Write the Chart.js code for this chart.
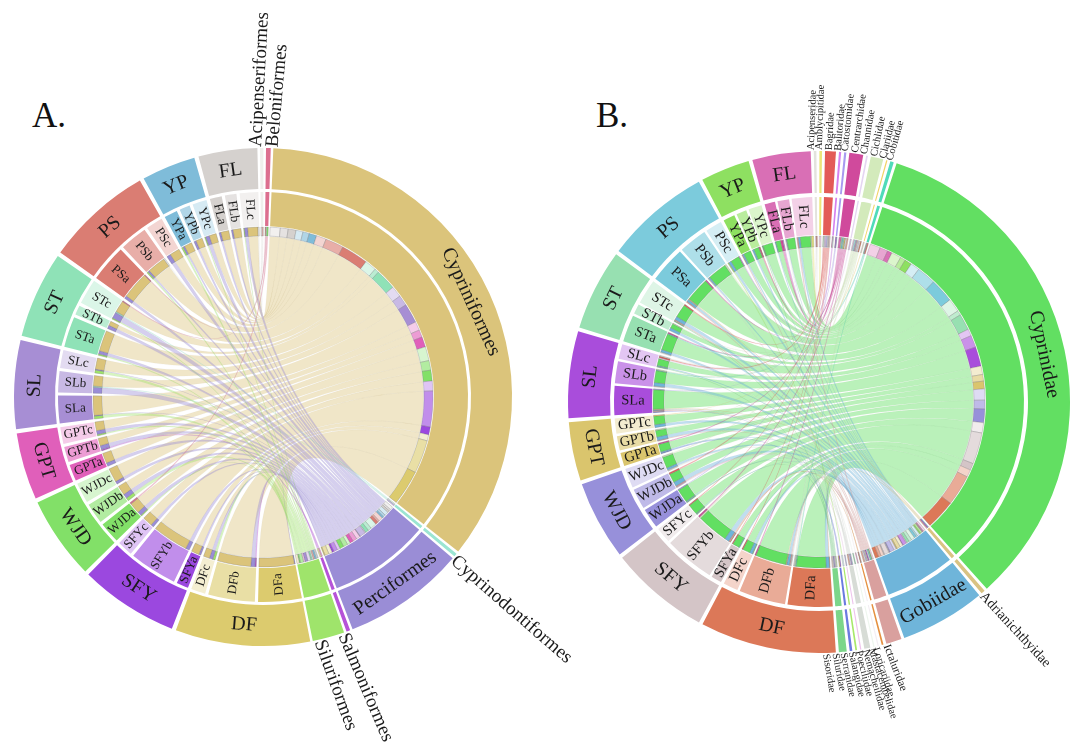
<!DOCTYPE html>
<html>
<head>
<meta charset="utf-8">
<script src="https://cdn.jsdelivr.net/npm/chart.js@4"></script>
<style>
  html, body { margin: 0; background: #fff; }
  canvas { position: absolute; left: 0; top: 0; }
  .tag { position: absolute; font: 35px "Liberation Serif"; color: #111; }
</style>
</head>
<body>
<div class="tag" style="left:32px;top:96px">A.</div>
<div class="tag" style="left:596px;top:96px">B.</div>
<canvas id="chartA" width="1080" height="755"></canvas>
<canvas id="chartB" width="1080" height="755"></canvas>
<script>
const groupNames = ['DF', 'SFY', 'WJD', 'GPT', 'SL', 'ST', 'PS', 'YP', 'FL']
const subNames = ['DFa','DFb','DFc','SFYa','SFYb','SFYc','WJDa','WJDb','WJDc','GPTa','GPTb','GPTc',
  'SLa','SLb','SLc','STa','STb','STc','PSa','PSb','PSc','YPa','YPb','YPc','FLa','FLb','FLc']

// panel A, degrees of circle per sampling group, same order as subNames
const cypriniformes = [12.1,11.45,2.1, 2.7,12.3,3.4, 3.7,3.3,4.8, 3.5,2.55,3.0, 6.7,3.6,3.8, 7.1,1.5,4.0, 9.3,6.3,3.4, 2.6,2.2,2.4, 2.7,2.7,3.5]
const perciformes = [0.3,1.4,1.2, 0.7,1.3,1.0, 1.4,1.5,1.0, 1.2,1.4,1.3, 0.2,2.0,0.3, 1.1,1.2,2.1, 1.0,0.6,1.4, 0.6,0.8,1.3, 0.7,0.6,1.1]
const siluriformes = [0,0,0.8, 0,0,0, 0.4,1.1,0, 0,0,0.5, 1.0,0,1.0, 0.5,0,0.4, 0,0.5,0, 0.6,0,0.4, 0,0,0.3]
const salmoniformes = [['DFb',0.45],['GPTb',0.45]]
const cyprinodontiformes = [['SLb',0.4],['STc',0.4]]
const acipenseriformes = [['PSb',0.4],['FLc',0.4]]
const beloniformes = [['WJDa',0.5],['STc',0.3],['PSa',0.3]]

// panel B
const cyprinidae = [10.4,10.8,2.6, 2.4,11.0,3.6, 4.75,3.1,3.9, 2.7,2.3,3.0, 6.8,4.2,2.4, 5.7,1.6,4.7, 8.4,6.7,3.15, 2.5,1.8,3.4, 1.65,2.8,3.6]
const gobiidae = [1.2,0.9,1.0, 0.3,1.6,0.2, 0.3,1.5,0.8, 0.4,1.2,1.0, 0.2,1.2,0.3, 0.9,1.0,1.2, 0.8,0.5,0.9, 0.5,0.6,0.1, 0.3,0.2,0.7]
const acipenseridae = [['DFa',0.3],['SLc',0.3]]
const amblycipitidae = [['FLc',0.6]]
const bagridae = [['DFc',0.3],['SFYa',0.3],['SFYc',0.3],['WJDb',0.5],['SLc',0.5],['STc',0.4],['YPb',0.2]]
const balitoridae = [['PSc',0.25],['FLa',0.25]]
const catostomidae = [['WJDa',0.25],['SLa',0.25]]
const centrarchidae = [['DFb',0.4],['SFYb',0.5],['GPTa',0.4],['STa',0.4],['PSa',0.4],['YPb',0.3],['FLa',0.8]]
const channidae = [['SLc',0.4]]
const cichlidae = [['DFa',0.3],['SFYb',0.5],['WJDc',0.4],['GPTb',0.3],['SLb',0.3],['STb',0.2],['PSb',0.5],['FLc',0.4]]
const clariidae = [['GPTc',0.3]]
const cobitidae = [['DFa',0.3],['SLb',0.2],['STa',0.3]]
const adrianichthyidae = [['DFb',0.3],['SLa',0.3],['PSa',0.3]]
const ictaluridae = [['DFb',0.4],['SFYb',0.5],['WJDb',0.4],['GPTb',0.3],['SLa',0.4],['STc',0.4],['PSa',0.4],['YPa',0.3],['FLc',0.5]]
const loricariidae = [['DFa',0.2],['SFYb',0.2]]
const mastacembelidae = [['FLb',0.3]]
const nemacheilidae = [['STa',0.3]]
const poeciliidae = [['DFb',0.4],['WJDc',0.4],['SLb',0.3],['PSb',0.3]]
const salangidae = [['WJDb',0.3]]
const serranidae = [['PSc',0.4]]
const siluridae = [['GPTa',0.3],['SLa',0.3]]
const sisoridae = [['DFc',0.3],['SFYc',0.3],['WJDa',0.3],['SLc',0.3],['STc',0.3],['YPc',0.3]]

const ordersA = [
  ['Acipenseriformes', acipenseriformes, '#efefec'],
  ['Beloniformes', beloniformes, '#dc6f8f'],
  ['Cypriniformes', cypriniformes, '#dbc47b'],
  ['Cyprinodontiformes', cyprinodontiformes, '#9be5d2'],
  ['Perciformes', perciformes, '#9a8dd6'],
  ['Salmoniformes', salmoniformes, '#b653d8'],
  ['Siluriformes', siluriformes, '#9fe46b'],
]
const ordersB = [
  ['Acipenseridae', acipenseridae, '#e3e3dd'],
  ['Amblycipitidae', amblycipitidae, '#ece67a'],
  ['Bagridae', bagridae, '#e35b57'],
  ['Balitoridae', balitoridae, '#d580ee'],
  ['Catostomidae', catostomidae, '#a89af0'],
  ['Centrarchidae', centrarchidae, '#d04a9c'],
  ['Channidae', channidae, '#e5d5f2'],
  ['Cichlidae', cichlidae, '#d3eabb'],
  ['Clariidae', clariidae, '#f1d468'],
  ['Cobitidae', cobitidae, '#50dbb9'],
  ['Cyprinidae', cyprinidae, '#62df62'],
  ['Adrianichthyidae', adrianichthyidae, '#d9c383'],
  ['Gobiidae', gobiidae, '#6fb5da'],
  ['Ictaluridae', ictaluridae, '#d9a09e'],
  ['Loricariidae', loricariidae, '#e59040'],
  ['Mastacembelidae', mastacembelidae, '#f3eef3'],
  ['Nemacheilidae', nemacheilidae, '#eef6ee'],
  ['Poeciliidae', poeciliidae, '#d7dcd6'],
  ['Salangidae', salangidae, '#eec3ec'],
  ['Serranidae', serranidae, '#a8e86a'],
  ['Siluridae', siluridae, '#6a7be0'],
  ['Sisoridae', sisoridae, '#7cd68a'],
]
const groupColorsA = ['#dccb6e','#9b48df','#82e068','#e05fba','#a78ed4','#8fe2b7','#da7d73','#7fbcd9','#d5d1ce']
const groupColorsB = ['#dc7858','#d4c5c7','#9790da','#dac56d','#a94ddb','#97e0b1','#7ccbdc','#8ee061','#d96fb5']

// where the names of thin sectors start: angle clockwise from the top, text rotation
const labelPlaceA = {
  Acipenseriformes: [358.4, -87], Beloniformes: [2.2, -85],
  Cyprinodontiformes: [130.4, 41], Salmoniformes: [161.4, 67], Siluriformes: [167, 70],
}
const labelPlaceB = {
  Acipenseridae: [358.2, -88], Amblycipitidae: [0, -88], Bagridae: [2.3, -87], Balitoridae: [4.3, -85],
  Catostomidae: [5.9, -84], Centrarchidae: [8.2, -82], Channidae: [10.3, -80], Cichlidae: [12.6, -78],
  Clariidae: [14.7, -76], Cobitidae: [16.3, -74], Adrianichthyidae: [139.7, 47],
  Ictaluridae: [164.5, 69], Loricariidae: [167, 72], Mastacembelidae: [168, 72], Nemacheilidae: [169.4, 74],
  Poeciliidae: [171, 76], Salangidae: [172.6, 77], Serranidae: [174.5, 78], Siluridae: [176.3, 79], Sisoridae: [178.5, 80],
}

const CLEAR = 'rgba(0,0,0,0)'

function tint(hex, k) {
  const v = [1, 3, 5].map(i => parseInt(hex.slice(i, i + 2), 16))
  return 'rgb(' + v.map(c => Math.round(255 - (255 - c) * k)).join(',') + ')'
}
function alpha(hex, a) {
  const v = [1, 3, 5].map(i => parseInt(hex.slice(i, i + 2), 16))
  return 'rgba(' + v.join(',') + ',' + a + ')'
}
function dense(list) {
  if (typeof list[0] === 'number') return list
  const row = subNames.map(() => 0)
  list.forEach(([name, v]) => { row[subNames.indexOf(name)] = v })
  return row
}

function drawChord(id, cfg) {
  const rows = cfg.orders.map(o => dense(o[1]))
  const subColors = subNames.map((_, i) => tint(cfg.groupColors[Math.floor(i / 3)], [1, 0.62, 0.32][i % 3]))
  const sum = a => a.reduce((s, v) => s + v, 0)

  const outer = [], outerC = [], outerL = []
  const inner = [], innerC = [], innerL = []
  const thin = [], thinC = [], thinB = []
  const ribbons = []
  const slot = rows.map(() => ({}))

  const push = (arr, col, v, c) => { arr.push(v); col.push(c) }
  const gap = v => {
    push(outer, outerC, v, CLEAR); outerL.push(null)
    push(inner, innerC, v, CLEAR); innerL.push(null)
    push(thin, thinC, v, CLEAR); thinB.push(0)
  }

  // families / orders, running clockwise from the top
  cfg.orders.forEach((o, k) => {
    const w = sum(rows[k])
    push(outer, outerC, w, o[2]); outerL.push(o[0])
    push(inner, innerC, w, o[2]); innerL.push(null)
    for (let s = subNames.length - 1; s >= 0; s--) {
      if (!rows[k][s]) continue
      slot[k][s] = thin.length
      push(thin, thinC, rows[k][s], subColors[s]); thinB.push(0.5)
    }
    gap(cfg.gapRight)
  })

  // sampling groups
  groupNames.forEach((g, gi) => {
    let w = 0
    for (let j = 0; j < 3; j++) {
      const s = gi * 3 + j
      const sw = sum(rows.map(r => r[s]))
      w += sw + (j < 2 ? cfg.gapSub : 0)
      push(inner, innerC, sw, subColors[s]); innerL.push(subNames[s])
      for (let k = rows.length - 1; k >= 0; k--) {
        if (!rows[k][s]) continue
        ribbons.push({ k, s, from: slot[k][s], to: thin.length })
        push(thin, thinC, rows[k][s], cfg.orders[k][2]); thinB.push(0.5)
      }
      if (j < 2) {
        push(inner, innerC, cfg.gapSub, CLEAR); innerL.push(null)
        push(thin, thinC, cfg.gapSub, CLEAR); thinB.push(0)
      }
    }
    push(outer, outerC, w, cfg.groupColors[gi]); outerL.push(g)
    if (gi < groupNames.length - 1) gap(cfg.gapGroup)
    else gap(cfg.gapRight)
  })

  // big orders go down first so the thin ribbons stay on top
  const rank = rows.map(sum)
  ribbons.sort((p, q) => rank[q.k] - rank[p.k])

  const chordPlugin = {
    id: 'chord',
    beforeDatasetsDraw(chart) {
      const ctx = chart.ctx
      const arcs = chart.getDatasetMeta(4).data
      const r = arcs[0].innerRadius - 0.5
      const cx = arcs[0].x, cy = arcs[0].y
      ctx.save()
      ribbons.forEach(rb => {
        const a = arcs[rb.from], b = arcs[rb.to]
        const col = cfg.orders[rb.k][2]
        ctx.beginPath()
        ctx.arc(cx, cy, r, a.startAngle, a.endAngle)
        ctx.quadraticCurveTo(cx, cy, cx + r * Math.cos(b.startAngle), cy + r * Math.sin(b.startAngle))
        ctx.arc(cx, cy, r, b.startAngle, b.endAngle)
        ctx.quadraticCurveTo(cx, cy, cx + r * Math.cos(a.startAngle), cy + r * Math.sin(a.startAngle))
        ctx.closePath()
        ctx.fillStyle = alpha(col, cfg.ribbonAlpha)
        ctx.fill()
        ctx.strokeStyle = 'rgba(120,120,110,0.07)'
        ctx.lineWidth = 0.4
        ctx.stroke()
      })
      ctx.restore()
    },
    afterDatasetsDraw(chart) {
      const ctx = chart.ctx
      ctx.save()
      ctx.fillStyle = '#1a1a1a'
      ctx.textBaseline = 'middle'
      const put = (el, text, size, reader) => {
        const mid = (el.startAngle + el.endAngle) / 2
        const deg = mid * 180 / Math.PI + 90
        const rad = (el.innerRadius + el.outerRadius) / 2
        ctx.save()
        ctx.translate(el.x + rad * Math.cos(mid), el.y + rad * Math.sin(mid))
        ctx.rotate(reader(deg) * Math.PI / 180)
        ctx.font = size + 'px "Liberation Serif"'
        ctx.textAlign = 'center'
        ctx.fillText(text, 0, 0)
        ctx.restore()
      }
      const tangent = d => (d > 90 && d < 270) ? d - 180 : d
      chart.getDatasetMeta(0).data.forEach((el, i) => {
        const t = outerL[i]
        if (!t) return
        if (cfg.inside.includes(t) || groupNames.includes(t)) {
          put(el, t, 20, tangent)
        } else {
          // names of thin sectors sit outside the ring and read away from it
          const size = cfg.outsideSize[t] || cfg.outsideSize.other
          const [deg, rot] = cfg.labelPlace[t]
          const mid = (deg - 90) * Math.PI / 180
          const rad = el.outerRadius + 1
          ctx.save()
          ctx.translate(el.x + rad * Math.cos(mid), el.y + rad * Math.sin(mid))
          ctx.rotate(rot * Math.PI / 180)
          ctx.font = size + 'px "Liberation Serif"'
          ctx.textAlign = 'left'
          ctx.fillText(t, 0, 0)
          ctx.restore()
        }
      })
      chart.getDatasetMeta(2).data.forEach((el, i) => {
        if (innerL[i]) put(el, innerL[i], cfg.innerSize, d => d - 270)
      })
      ctx.restore()
    }
  }

  const hole = cfg.radius - cfg.weights.reduce((s, v) => s + v, 0)
  new Chart(document.getElementById(id), {
    type: 'doughnut',
    data: {
      labels: thin.map((_, i) => i),
      datasets: [
        { data: outer, backgroundColor: outerC, weight: cfg.weights[0], borderWidth: 0 },
        { data: [1], backgroundColor: [CLEAR], weight: cfg.weights[1], borderWidth: 0 },
        { data: inner, backgroundColor: innerC, weight: cfg.weights[2], borderWidth: 0 },
        { data: [1], backgroundColor: [CLEAR], weight: cfg.weights[3], borderWidth: 0 },
        { data: thin, backgroundColor: thinC, weight: cfg.weights[4], borderWidth: thinB, borderColor: 'rgba(110,110,110,0.55)' },
      ],
    },
    options: {
      responsive: false,
      animation: false,
      rotation: cfg.rotation,
      radius: cfg.radius,
      cutout: (hole / cfg.radius * 100) + '%',
      layout: { padding: { left: cfg.cx - 260, right: 1080 - cfg.cx - 260, top: cfg.cy - 260, bottom: 755 - cfg.cy - 260 } },
      plugins: { legend: { display: false }, tooltip: { enabled: false } },
    },
    plugins: [chordPlugin],
  })
}

drawChord('chartA', {
  orders: ordersA, groupColors: groupColorsA,
  cx: 263, cy: 397, radius: 249, weights: [41, 3, 34, 1, 9], rotation: -0.7,
  gapRight: 0.6, gapGroup: 1.0, gapSub: 0.9, ribbonAlpha: 0.42,
  inside: ['Cypriniformes', 'Perciformes'], innerSize: 13,
  outsideSize: { other: 19 }, labelPlace: labelPlaceA,
})
drawChord('chartB', {
  orders: ordersB, groupColors: groupColorsB,
  cx: 819, cy: 402, radius: 251, weights: [42, 4, 38, 1, 11], rotation: -1.2,
  gapRight: 0.69, gapGroup: 0.9, gapSub: 0.7, ribbonAlpha: 0.44,
  inside: ['Cyprinidae', 'Gobiidae'], innerSize: 14.5,
  outsideSize: { other: 10.5, Adrianichthyidae: 14, Ictaluridae: 11.5 }, labelPlace: labelPlaceB,
})
</script>
</body>
</html>
